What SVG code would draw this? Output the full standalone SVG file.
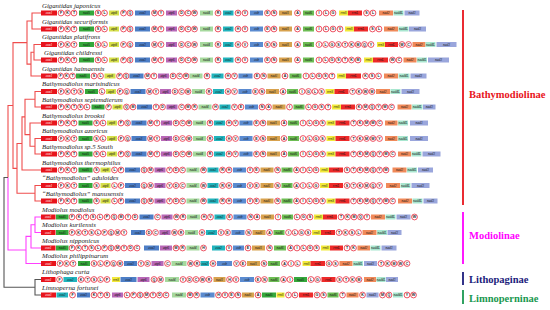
<svg xmlns="http://www.w3.org/2000/svg" width="550" height="310" viewBox="0 0 550 310">
<style>
.sp{font:italic 6.8px "Liberation Serif",serif;fill:#1a1a1a}
.bx text{font:italic 3.5px "Liberation Serif",serif;fill:#111;text-anchor:middle;dominant-baseline:central}
.bx text.w{fill:#fff}
.tr circle{fill:#fff;stroke:#e8283c;stroke-width:.8}
.tl text{font:bold 3.6px "Liberation Sans",sans-serif;fill:#222;text-anchor:middle;dominant-baseline:central}
.k1{fill:#e8141c}.n5{fill:#35a83c}.a8{fill:#d6e04a}.c3{fill:#4d7ec6}.a6{fill:#b868b8}
.n4{fill:#a6d99e}.c2{fill:#22b4be}.cb{fill:#5b8bd0}.n1{fill:#d8a24e}.n6{fill:#6dbd54}
.rs{fill:#f2ea3a}.rl{fill:#ee2a2a}.n2{fill:#f08a5a}.nl{fill:#a8e6cf}.n3{fill:#9aa6dc}
#tree path{fill:none;stroke-width:1.1}
.red{stroke:#ef4d4d}.mag{stroke:#ff40ff}.gry{stroke:#555}
.sub{font:bold 10.5px "Liberation Serif",serif}
</style>

<g id="tree">
<path class="red" d="M41 13H32V29H41M41 44.5H34V60H41M34 52.25H31V76H41M32 21H27V64.1H31"/>
<path class="red" d="M41 91.5H35V107H41M41 138.5H35V154H41M35 146.25H30V123H41M35 99.25H25V134.6H30M25 116.9H22V170H41M41 185.5H35V201H41M22 143.5H17V193.25H35M27 42.6H13V168.4H17M13 105.5H8V177.5"/>
<path class="mag" d="M8 177.5V250H26M41 217H35V232.5H41M35 224.75H31V248H41M31 236.4H26V263.5H41"/>
<path class="gry" d="M8 177.5H4V287.25H35M41 279.5H35V295H41"/>
</g>

<g id="japonicus" transform="translate(0,13)">
<text class="sp" x="42" y="-5.3">Gigantidas japonicus</text>
<g class="bx">
<rect class="k1" x="41" y="-2.5" width="16" height="5"/><text class="w" x="49">cox1</text>
<rect class="n5" x="79" y="-2.5" width="15" height="5"/><text x="86.5">nad5</text>
<rect class="a8" x="109" y="-2.5" width="10" height="5"/><text x="114">atp8</text>
<rect class="c3" x="135" y="-2.5" width="15" height="5"/><text x="142.5">cox3</text>
<rect class="a6" x="166" y="-2.5" width="11" height="5"/><text x="171.5">atp6</text>
<rect class="n4" x="200" y="-2.5" width="13" height="5"/><text x="206.5">nad4</text>
<rect class="c2" x="223" y="-2.5" width="10.5" height="5"/><text x="228.25">cox2</text>
<rect class="cb" x="250" y="-2.5" width="13" height="5"/><text x="256.5">cob</text>
<rect class="n1" x="279" y="-2.5" width="13" height="5"/><text x="285.5">nad1</text>
<rect class="n6" x="303" y="-2.5" width="11" height="5"/><text x="308.5">nad6</text>
<rect class="rs" x="339" y="-2.5" width="9" height="5"/><text x="343.5">rrnS</text>
<rect class="rl" x="348" y="-2.5" width="14" height="5"/><text x="355">rrnL</text>
<rect class="n2" x="379" y="-2.5" width="14" height="5"/><text x="386">nad2</text>
<rect class="nl" x="393.5" y="-2.5" width="10" height="5"/><text x="398.5">nad4L</text>
<rect class="n3" x="404.5" y="-2.5" width="15" height="5"/><text x="412">nad3</text>
</g>
<g class="tr"><circle cx="61" r="2.9"/><circle cx="67.5" r="2.9"/><circle cx="74" r="2.9"/><circle cx="98" r="2.9"/><circle cx="104.5" r="2.9"/><circle cx="123.5" r="2.9"/><circle cx="130" r="2.9"/><circle cx="154.5" r="2.9"/><circle cx="161" r="2.9"/><circle cx="181.5" r="2.9"/><circle cx="188" r="2.9"/><circle cx="194.5" r="2.9"/><circle cx="218" r="2.9"/><circle cx="238" r="2.9"/><circle cx="245" r="2.9"/><circle cx="267.5" r="2.9"/><circle cx="274" r="2.9"/><circle cx="297.5" r="2.9"/><circle cx="319" r="2.9"/><circle cx="326" r="2.9"/><circle cx="333" r="2.9"/><circle cx="366.5" r="2.9"/><circle cx="373" r="2.9"/></g>
<g class="tl"><text x="61">F</text><text x="67.5">K</text><text x="74">T</text><text x="98">S</text><text x="104.5">L</text><text x="123.5">P</text><text x="130">Q</text><text x="154.5">M</text><text x="161">Y</text><text x="181.5">D</text><text x="188">C</text><text x="194.5">W</text><text x="218">R</text><text x="238">H</text><text x="245">V</text><text x="267.5">E</text><text x="274">N</text><text x="297.5">A</text><text x="319">I</text><text x="326">L</text><text x="333">G</text><text x="366.5">S</text><text x="373">L</text></g>
</g>

<g id="securiformis" transform="translate(0,29)">
<text class="sp" x="42" y="-5.3">Gigantidas securiformis</text>
<g class="bx">
<rect class="k1" x="41" y="-2.5" width="16" height="5"/><text class="w" x="49">cox1</text>
<rect class="n5" x="79" y="-2.5" width="15" height="5"/><text x="86.5">nad5</text>
<rect class="a8" x="109" y="-2.5" width="10" height="5"/><text x="114">atp8</text>
<rect class="c3" x="135" y="-2.5" width="15" height="5"/><text x="142.5">cox3</text>
<rect class="a6" x="166" y="-2.5" width="11" height="5"/><text x="171.5">atp6</text>
<rect class="n4" x="200" y="-2.5" width="13" height="5"/><text x="206.5">nad4</text>
<rect class="c2" x="223" y="-2.5" width="10.5" height="5"/><text x="228.25">cox2</text>
<rect class="cb" x="250" y="-2.5" width="13" height="5"/><text x="256.5">cob</text>
<rect class="n1" x="279" y="-2.5" width="13" height="5"/><text x="285.5">nad1</text>
<rect class="n6" x="303" y="-2.5" width="11" height="5"/><text x="308.5">nad6</text>
<rect class="rs" x="345" y="-2.5" width="9" height="5"/><text x="349.5">rrnS</text>
<rect class="rl" x="354" y="-2.5" width="14" height="5"/><text x="361">rrnL</text>
<rect class="n2" x="384" y="-2.5" width="14" height="5"/><text x="391">nad2</text>
<rect class="nl" x="398.5" y="-2.5" width="10" height="5"/><text x="403.5">nad4L</text>
<rect class="n3" x="409" y="-2.5" width="17" height="5"/><text x="417.5">nad3</text>
</g>
<g class="tr"><circle cx="61" r="2.9"/><circle cx="67.5" r="2.9"/><circle cx="74" r="2.9"/><circle cx="98" r="2.9"/><circle cx="104.5" r="2.9"/><circle cx="123.5" r="2.9"/><circle cx="130" r="2.9"/><circle cx="154.5" r="2.9"/><circle cx="161" r="2.9"/><circle cx="181.5" r="2.9"/><circle cx="188" r="2.9"/><circle cx="194.5" r="2.9"/><circle cx="218" r="2.9"/><circle cx="238" r="2.9"/><circle cx="245" r="2.9"/><circle cx="267.5" r="2.9"/><circle cx="274" r="2.9"/><circle cx="297.5" r="2.9"/><circle cx="319" r="2.9"/><circle cx="326" r="2.9"/><circle cx="333" r="2.9"/><circle cx="340" r="2.9"/><circle cx="372.5" r="2.9"/><circle cx="379" r="2.9"/></g>
<g class="tl"><text x="61">F</text><text x="67.5">K</text><text x="74">T</text><text x="98">S</text><text x="104.5">L</text><text x="123.5">P</text><text x="130">Q</text><text x="154.5">M</text><text x="161">Y</text><text x="181.5">D</text><text x="188">C</text><text x="194.5">W</text><text x="218">R</text><text x="238">H</text><text x="245">V</text><text x="267.5">E</text><text x="274">N</text><text x="297.5">A</text><text x="319">I</text><text x="326">L</text><text x="333">G</text><text x="340">V</text><text x="372.5">S</text><text x="379">L</text></g>
</g>

<g id="platifrons" transform="translate(0,44.5)">
<text class="sp" x="42" y="-5.3">Gigantidas platifrons</text>
<g class="bx">
<rect class="k1" x="41" y="-2.5" width="16" height="5"/><text class="w" x="49">cox1</text>
<rect class="n5" x="79" y="-2.5" width="15" height="5"/><text x="86.5">nad5</text>
<rect class="a8" x="109" y="-2.5" width="10" height="5"/><text x="114">atp8</text>
<rect class="c3" x="135" y="-2.5" width="15" height="5"/><text x="142.5">cox3</text>
<rect class="a6" x="166" y="-2.5" width="11" height="5"/><text x="171.5">atp6</text>
<rect class="n4" x="200" y="-2.5" width="13" height="5"/><text x="206.5">nad4</text>
<rect class="c2" x="223" y="-2.5" width="10.5" height="5"/><text x="228.25">cox2</text>
<rect class="cb" x="250" y="-2.5" width="13" height="5"/><text x="256.5">cob</text>
<rect class="n1" x="279" y="-2.5" width="13" height="5"/><text x="285.5">nad1</text>
<rect class="n6" x="303" y="-2.5" width="11" height="5"/><text x="308.5">nad6</text>
<rect class="rs" x="377" y="-2.5" width="8" height="5"/><text x="381">rrnS</text>
<rect class="rl" x="385" y="-2.5" width="13" height="5"/><text x="391.5">rrnL</text>
<rect class="n2" x="412.5" y="-2.5" width="13" height="5"/><text x="419">nad2</text>
<rect class="nl" x="425.5" y="-2.5" width="10" height="5"/><text x="430.5">nad4L</text>
<rect class="n3" x="436.5" y="-2.5" width="20" height="5"/><text x="446.5">nad3</text>
</g>
<g class="tr"><circle cx="61" r="2.9"/><circle cx="67.5" r="2.9"/><circle cx="74" r="2.9"/><circle cx="98" r="2.9"/><circle cx="104.5" r="2.9"/><circle cx="123.5" r="2.9"/><circle cx="130" r="2.9"/><circle cx="154.5" r="2.9"/><circle cx="161" r="2.9"/><circle cx="181.5" r="2.9"/><circle cx="188" r="2.9"/><circle cx="194.5" r="2.9"/><circle cx="218" r="2.9"/><circle cx="238" r="2.9"/><circle cx="245" r="2.9"/><circle cx="267.5" r="2.9"/><circle cx="274" r="2.9"/><circle cx="297.5" r="2.9"/><circle cx="319" r="2.9"/><circle cx="325.5" r="2.9"/><circle cx="332" r="2.9"/><circle cx="338.5" r="2.9"/><circle cx="345" r="2.9"/><circle cx="351.5" r="2.9"/><circle cx="358" r="2.9"/><circle cx="364.5" r="2.9"/><circle cx="371" r="2.9"/><circle cx="402" r="2.9"/><circle cx="408.5" r="2.9"/></g>
<g class="tl"><text x="61">F</text><text x="67.5">K</text><text x="74">T</text><text x="98">S</text><text x="104.5">L</text><text x="123.5">P</text><text x="130">Q</text><text x="154.5">M</text><text x="161">Y</text><text x="181.5">D</text><text x="188">C</text><text x="194.5">W</text><text x="218">R</text><text x="238">H</text><text x="245">V</text><text x="267.5">E</text><text x="274">N</text><text x="297.5">A</text><text x="319">I</text><text x="325.5">L</text><text x="332">G</text><text x="338.5">S</text><text x="345">T</text><text x="351.5">K</text><text x="358">M</text><text x="364.5">Q</text><text x="371">Y</text><text x="402">W</text><text x="408.5">C</text></g>
</g>

<g id="childressi" transform="translate(0,60)">
<text class="sp" x="44" y="-5.3">Gigantidas childressi</text>
<g class="bx">
<rect class="k1" x="41" y="-2.5" width="16" height="5"/><text class="w" x="49">cox1</text>
<rect class="n5" x="79" y="-2.5" width="15" height="5"/><text x="86.5">nad5</text>
<rect class="a8" x="109" y="-2.5" width="10" height="5"/><text x="114">atp8</text>
<rect class="c3" x="135" y="-2.5" width="15" height="5"/><text x="142.5">cox3</text>
<rect class="a6" x="166" y="-2.5" width="11" height="5"/><text x="171.5">atp6</text>
<rect class="n4" x="200" y="-2.5" width="13" height="5"/><text x="206.5">nad4</text>
<rect class="c2" x="223" y="-2.5" width="10.5" height="5"/><text x="228.25">cox2</text>
<rect class="cb" x="250" y="-2.5" width="13" height="5"/><text x="256.5">cob</text>
<rect class="n1" x="279" y="-2.5" width="13" height="5"/><text x="285.5">nad1</text>
<rect class="n6" x="303" y="-2.5" width="11" height="5"/><text x="308.5">nad6</text>
<rect class="rs" x="364" y="-2.5" width="9" height="5"/><text x="368.5">rrnS</text>
<rect class="rl" x="373" y="-2.5" width="15" height="5"/><text x="380.5">rrnL</text>
<rect class="n2" x="403.5" y="-2.5" width="13" height="5"/><text x="410">nad2</text>
<rect class="nl" x="417" y="-2.5" width="10" height="5"/><text x="422">nad4L</text>
<rect class="n3" x="428" y="-2.5" width="21" height="5"/><text x="438.5">nad3</text>
</g>
<g class="tr"><circle cx="61" r="2.9"/><circle cx="67.5" r="2.9"/><circle cx="74" r="2.9"/><circle cx="98" r="2.9"/><circle cx="104.5" r="2.9"/><circle cx="123.5" r="2.9"/><circle cx="130" r="2.9"/><circle cx="154.5" r="2.9"/><circle cx="161" r="2.9"/><circle cx="181.5" r="2.9"/><circle cx="188" r="2.9"/><circle cx="194.5" r="2.9"/><circle cx="218" r="2.9"/><circle cx="238" r="2.9"/><circle cx="245" r="2.9"/><circle cx="267.5" r="2.9"/><circle cx="274" r="2.9"/><circle cx="297.5" r="2.9"/><circle cx="319" r="2.9"/><circle cx="325.5" r="2.9"/><circle cx="332" r="2.9"/><circle cx="338.5" r="2.9"/><circle cx="345" r="2.9"/><circle cx="351.5" r="2.9"/><circle cx="358" r="2.9"/><circle cx="392.5" r="2.9"/><circle cx="399" r="2.9"/></g>
<g class="tl"><text x="61">F</text><text x="67.5">K</text><text x="74">T</text><text x="98">S</text><text x="104.5">L</text><text x="123.5">P</text><text x="130">Q</text><text x="154.5">M</text><text x="161">Y</text><text x="181.5">D</text><text x="188">C</text><text x="194.5">W</text><text x="218">R</text><text x="238">H</text><text x="245">V</text><text x="267.5">E</text><text x="274">N</text><text x="297.5">A</text><text x="319">I</text><text x="325.5">L</text><text x="332">G</text><text x="338.5">S</text><text x="345">T</text><text x="351.5">K</text><text x="358">M</text><text x="392.5">W</text><text x="399">C</text></g>
</g>

<g id="haimaensis" transform="translate(0,76)">
<text class="sp" x="42" y="-5.3">Gigantidas haimaensis</text>
<g class="bx">
<rect class="k1" x="41" y="-2.5" width="16" height="5"/><text class="w" x="49">cox1</text>
<rect class="n5" x="76" y="-2.5" width="14" height="5"/><text x="83">nad5</text>
<rect class="a8" x="104.5" y="-2.5" width="11" height="5"/><text x="110">atp8</text>
<rect class="c3" x="129.5" y="-2.5" width="14" height="5"/><text x="136.5">cox3</text>
<rect class="a6" x="158" y="-2.5" width="11" height="5"/><text x="163.5">atp6</text>
<rect class="n4" x="189.5" y="-2.5" width="13" height="5"/><text x="196">nad4</text>
<rect class="c2" x="211.5" y="-2.5" width="12" height="5"/><text x="217.5">cox2</text>
<rect class="cb" x="238.5" y="-2.5" width="14" height="5"/><text x="245.5">cob</text>
<rect class="n1" x="267.5" y="-2.5" width="13" height="5"/><text x="274">nad1</text>
<rect class="n6" x="289.5" y="-2.5" width="12" height="5"/><text x="295.5">nad6</text>
<rect class="rs" x="337" y="-2.5" width="9" height="5"/><text x="341.5">rrnS</text>
<rect class="rl" x="346" y="-2.5" width="15" height="5"/><text x="353.5">rrnL</text>
<rect class="n2" x="384" y="-2.5" width="14" height="5"/><text x="391">nad2</text>
<rect class="nl" x="398.5" y="-2.5" width="11" height="5"/><text x="404">nad4L</text>
<rect class="n3" x="410.5" y="-2.5" width="16" height="5"/><text x="418.5">nad3</text>
</g>
<g class="tr"><circle cx="60.5" r="2.9"/><circle cx="66.5" r="2.9"/><circle cx="72.5" r="2.9"/><circle cx="94" r="2.9"/><circle cx="100.5" r="2.9"/><circle cx="119.5" r="2.9"/><circle cx="126" r="2.9"/><circle cx="147.5" r="2.9"/><circle cx="154" r="2.9"/><circle cx="173" r="2.9"/><circle cx="179.5" r="2.9"/><circle cx="186" r="2.9"/><circle cx="207" r="2.9"/><circle cx="228" r="2.9"/><circle cx="234.5" r="2.9"/><circle cx="257" r="2.9"/><circle cx="263.5" r="2.9"/><circle cx="285" r="2.9"/><circle cx="306" r="2.9"/><circle cx="312.5" r="2.9"/><circle cx="319" r="2.9"/><circle cx="325.5" r="2.9"/><circle cx="332" r="2.9"/><circle cx="365.5" r="2.9"/><circle cx="372" r="2.9"/><circle cx="378.5" r="2.9"/></g>
<g class="tl"><text x="60.5">F</text><text x="66.5">K</text><text x="72.5">T</text><text x="94">S</text><text x="100.5">L</text><text x="119.5">P</text><text x="126">Q</text><text x="147.5">M</text><text x="154">Y</text><text x="173">D</text><text x="179.5">C</text><text x="186">W</text><text x="207">R</text><text x="228">H</text><text x="234.5">V</text><text x="257">E</text><text x="263.5">N</text><text x="285">A</text><text x="306">I</text><text x="312.5">L</text><text x="319">G</text><text x="325.5">S</text><text x="332">T</text><text x="365.5">K</text><text x="372">S</text><text x="378.5">L</text></g>
</g>

<g id="marisindicus" transform="translate(0,91.5)">
<text class="sp" x="42" y="-5.3">Bathymodiolus marisindicus</text>
<g class="bx">
<rect class="k1" x="41" y="-2.5" width="16" height="5"/><text class="w" x="49">cox1</text>
<rect class="n5" x="85" y="-2.5" width="13" height="5"/><text x="91.5">nad5</text>
<rect class="a8" x="106" y="-2.5" width="10" height="5"/><text x="111">atp8</text>
<rect class="c3" x="130.5" y="-2.5" width="15" height="5"/><text x="138">cox3</text>
<rect class="a6" x="160" y="-2.5" width="11" height="5"/><text x="165.5">atp6</text>
<rect class="n4" x="192" y="-2.5" width="13" height="5"/><text x="198.5">nad4</text>
<rect class="c2" x="213" y="-2.5" width="11" height="5"/><text x="218.5">cox2</text>
<rect class="cb" x="238.5" y="-2.5" width="13" height="5"/><text x="245">cob</text>
<rect class="n1" x="266" y="-2.5" width="13" height="5"/><text x="272.5">nad1</text>
<rect class="n6" x="287" y="-2.5" width="11" height="5"/><text x="292.5">nad6</text>
<rect class="rs" x="325.5" y="-2.5" width="9" height="5"/><text x="330">rrnS</text>
<rect class="rl" x="334.5" y="-2.5" width="14" height="5"/><text x="341.5">rrnL</text>
<rect class="n2" x="376" y="-2.5" width="14" height="5"/><text x="383">nad2</text>
<rect class="nl" x="390.5" y="-2.5" width="10" height="5"/><text x="395.5">nad4L</text>
<rect class="n3" x="401.5" y="-2.5" width="18" height="5"/><text x="410.5">nad3</text>
</g>
<g class="tr"><circle cx="61" r="2.9"/><circle cx="67.5" r="2.9"/><circle cx="74" r="2.9"/><circle cx="80.5" r="2.9"/><circle cx="102" r="2.9"/><circle cx="120" r="2.9"/><circle cx="126.5" r="2.9"/><circle cx="149.5" r="2.9"/><circle cx="156" r="2.9"/><circle cx="175" r="2.9"/><circle cx="181.5" r="2.9"/><circle cx="188" r="2.9"/><circle cx="209" r="2.9"/><circle cx="228" r="2.9"/><circle cx="234.5" r="2.9"/><circle cx="255.5" r="2.9"/><circle cx="262" r="2.9"/><circle cx="283" r="2.9"/><circle cx="302" r="2.9"/><circle cx="308.5" r="2.9"/><circle cx="315" r="2.9"/><circle cx="321.5" r="2.9"/><circle cx="352.5" r="2.9"/><circle cx="359" r="2.9"/><circle cx="365.5" r="2.9"/><circle cx="372" r="2.9"/></g>
<g class="tl"><text x="61">F</text><text x="67.5">K</text><text x="74">T</text><text x="80.5">S</text><text x="102">L</text><text x="120">P</text><text x="126.5">Q</text><text x="149.5">M</text><text x="156">Y</text><text x="175">D</text><text x="181.5">C</text><text x="188">W</text><text x="209">R</text><text x="228">H</text><text x="234.5">V</text><text x="255.5">E</text><text x="262">N</text><text x="283">A</text><text x="302">I</text><text x="308.5">G</text><text x="315">L</text><text x="321.5">S</text><text x="352.5">T</text><text x="359">K</text><text x="365.5">W</text><text x="372">M</text></g>
</g>

<g id="septemdierum" transform="translate(0,107)">
<text class="sp" x="42" y="-5.3">Bathymodiolus septemdierum</text>
<g class="bx">
<rect class="k1" x="41" y="-2.5" width="16" height="5"/><text class="w" x="49">cox1</text>
<rect class="n5" x="91.5" y="-2.5" width="13" height="5"/><text x="98">nad5</text>
<rect class="a8" x="112.5" y="-2.5" width="10" height="5"/><text x="117.5">atp8</text>
<rect class="c3" x="137" y="-2.5" width="15" height="5"/><text x="144.5">cox3</text>
<rect class="a6" x="166.5" y="-2.5" width="11" height="5"/><text x="172">atp6</text>
<rect class="n4" x="198.5" y="-2.5" width="13" height="5"/><text x="205">nad4</text>
<rect class="c2" x="219.5" y="-2.5" width="11" height="5"/><text x="225">cox2</text>
<rect class="cb" x="245" y="-2.5" width="13" height="5"/><text x="251.5">cob</text>
<rect class="n1" x="272.5" y="-2.5" width="13" height="5"/><text x="279">nad1</text>
<rect class="n6" x="293.5" y="-2.5" width="11" height="5"/><text x="299">nad6</text>
<rect class="rs" x="332" y="-2.5" width="9" height="5"/><text x="336.5">rrnS</text>
<rect class="rl" x="341" y="-2.5" width="14" height="5"/><text x="348">rrnL</text>
<rect class="n2" x="397.5" y="-2.5" width="14" height="5"/><text x="404.5">nad2</text>
<rect class="nl" x="412" y="-2.5" width="10.5" height="5"/><text x="417.25">nad4L</text>
<rect class="n3" x="423" y="-2.5" width="12.5" height="5"/><text x="429.25">nad3</text>
</g>
<g class="tr"><circle cx="61" r="2.9"/><circle cx="67.5" r="2.9"/><circle cx="74" r="2.9"/><circle cx="80.5" r="2.9"/><circle cx="87" r="2.9"/><circle cx="108.5" r="2.9"/><circle cx="126.5" r="2.9"/><circle cx="133" r="2.9"/><circle cx="156" r="2.9"/><circle cx="162.5" r="2.9"/><circle cx="181.5" r="2.9"/><circle cx="188" r="2.9"/><circle cx="194.5" r="2.9"/><circle cx="215.5" r="2.9"/><circle cx="234.5" r="2.9"/><circle cx="241" r="2.9"/><circle cx="262" r="2.9"/><circle cx="268.5" r="2.9"/><circle cx="289.5" r="2.9"/><circle cx="308.5" r="2.9"/><circle cx="315" r="2.9"/><circle cx="321.5" r="2.9"/><circle cx="328" r="2.9"/><circle cx="359" r="2.9"/><circle cx="365.5" r="2.9"/><circle cx="372" r="2.9"/><circle cx="378.5" r="2.9"/><circle cx="385" r="2.9"/><circle cx="391.5" r="2.9"/></g>
<g class="tl"><text x="61">F</text><text x="67.5">K</text><text x="74">T</text><text x="80.5">S</text><text x="87">L</text><text x="108.5">P</text><text x="126.5">Q</text><text x="133">M</text><text x="156">Y</text><text x="162.5">D</text><text x="181.5">C</text><text x="188">W</text><text x="194.5">R</text><text x="215.5">H</text><text x="234.5">V</text><text x="241">E</text><text x="262">N</text><text x="268.5">A</text><text x="289.5">I</text><text x="308.5">L</text><text x="315">G</text><text x="321.5">S</text><text x="328">T</text><text x="359">K</text><text x="365.5">M</text><text x="372">Q</text><text x="378.5">Y</text><text x="385">W</text><text x="391.5">C</text></g>
</g>

<g id="brooksi" transform="translate(0,123)">
<text class="sp" x="42" y="-5.3">Bathymodiolus brooksi</text>
<g class="bx">
<rect class="k1" x="41" y="-2.5" width="16" height="5"/><text class="w" x="49">cox1</text>
<rect class="n5" x="78.5" y="-2.5" width="14" height="5"/><text x="85.5">nad5</text>
<rect class="a8" x="107" y="-2.5" width="10" height="5"/><text x="112">atp8</text>
<rect class="c3" x="131.5" y="-2.5" width="15" height="5"/><text x="139">cox3</text>
<rect class="a6" x="161" y="-2.5" width="11" height="5"/><text x="166.5">atp6</text>
<rect class="n4" x="193" y="-2.5" width="13" height="5"/><text x="199.5">nad4</text>
<rect class="c2" x="214" y="-2.5" width="11" height="5"/><text x="219.5">cox2</text>
<rect class="cb" x="239.5" y="-2.5" width="13" height="5"/><text x="246">cob</text>
<rect class="n1" x="267" y="-2.5" width="13" height="5"/><text x="273.5">nad1</text>
<rect class="n6" x="288" y="-2.5" width="11" height="5"/><text x="293.5">nad6</text>
<rect class="rs" x="326.5" y="-2.5" width="9" height="5"/><text x="331">rrnS</text>
<rect class="rl" x="335.5" y="-2.5" width="14" height="5"/><text x="342.5">rrnL</text>
<rect class="n2" x="385" y="-2.5" width="12.5" height="5"/><text x="391.25">nad2</text>
<rect class="nl" x="398" y="-2.5" width="10" height="5"/><text x="403">nad4L</text>
<rect class="n3" x="410" y="-2.5" width="18" height="5"/><text x="419">nad3</text>
</g>
<g class="tr"><circle cx="61" r="2.9"/><circle cx="67.5" r="2.9"/><circle cx="74" r="2.9"/><circle cx="96.5" r="2.9"/><circle cx="103" r="2.9"/><circle cx="121" r="2.9"/><circle cx="127.5" r="2.9"/><circle cx="150.5" r="2.9"/><circle cx="157" r="2.9"/><circle cx="176" r="2.9"/><circle cx="182.5" r="2.9"/><circle cx="189" r="2.9"/><circle cx="210" r="2.9"/><circle cx="229" r="2.9"/><circle cx="235.5" r="2.9"/><circle cx="256.5" r="2.9"/><circle cx="263" r="2.9"/><circle cx="284" r="2.9"/><circle cx="303" r="2.9"/><circle cx="309.5" r="2.9"/><circle cx="316" r="2.9"/><circle cx="322.5" r="2.9"/><circle cx="353.5" r="2.9"/><circle cx="360" r="2.9"/><circle cx="366.5" r="2.9"/><circle cx="373" r="2.9"/><circle cx="379.5" r="2.9"/></g>
<g class="tl"><text x="61">F</text><text x="67.5">K</text><text x="74">T</text><text x="96.5">S</text><text x="103">L</text><text x="121">P</text><text x="127.5">Q</text><text x="150.5">M</text><text x="157">Y</text><text x="176">D</text><text x="182.5">C</text><text x="189">W</text><text x="210">R</text><text x="229">H</text><text x="235.5">V</text><text x="256.5">E</text><text x="263">N</text><text x="284">A</text><text x="303">I</text><text x="309.5">L</text><text x="316">G</text><text x="322.5">S</text><text x="353.5">T</text><text x="360">K</text><text x="366.5">M</text><text x="373">W</text><text x="379.5">C</text></g>
</g>

<g id="azoricus" transform="translate(0,138.5)">
<text class="sp" x="42" y="-5.3">Bathymodiolus azoricus</text>
<g class="bx">
<rect class="k1" x="41" y="-2.5" width="16" height="5"/><text class="w" x="49">cox1</text>
<rect class="n5" x="78.5" y="-2.5" width="14" height="5"/><text x="85.5">nad5</text>
<rect class="a8" x="107" y="-2.5" width="10" height="5"/><text x="112">atp8</text>
<rect class="c3" x="131.5" y="-2.5" width="15" height="5"/><text x="139">cox3</text>
<rect class="a6" x="161" y="-2.5" width="11" height="5"/><text x="166.5">atp6</text>
<rect class="n4" x="193" y="-2.5" width="13" height="5"/><text x="199.5">nad4</text>
<rect class="c2" x="214" y="-2.5" width="11" height="5"/><text x="219.5">cox2</text>
<rect class="cb" x="239.5" y="-2.5" width="13" height="5"/><text x="246">cob</text>
<rect class="n1" x="267" y="-2.5" width="13" height="5"/><text x="273.5">nad1</text>
<rect class="n6" x="288" y="-2.5" width="11" height="5"/><text x="293.5">nad6</text>
<rect class="rs" x="326.5" y="-2.5" width="9" height="5"/><text x="331">rrnS</text>
<rect class="rl" x="335.5" y="-2.5" width="14" height="5"/><text x="342.5">rrnL</text>
<rect class="n2" x="385" y="-2.5" width="12.5" height="5"/><text x="391.25">nad2</text>
<rect class="nl" x="398" y="-2.5" width="10" height="5"/><text x="403">nad4L</text>
<rect class="n3" x="410" y="-2.5" width="18" height="5"/><text x="419">nad3</text>
</g>
<g class="tr"><circle cx="61" r="2.9"/><circle cx="67.5" r="2.9"/><circle cx="74" r="2.9"/><circle cx="96.5" r="2.9"/><circle cx="103" r="2.9"/><circle cx="121" r="2.9"/><circle cx="127.5" r="2.9"/><circle cx="150.5" r="2.9"/><circle cx="157" r="2.9"/><circle cx="176" r="2.9"/><circle cx="182.5" r="2.9"/><circle cx="189" r="2.9"/><circle cx="210" r="2.9"/><circle cx="229" r="2.9"/><circle cx="235.5" r="2.9"/><circle cx="256.5" r="2.9"/><circle cx="263" r="2.9"/><circle cx="284" r="2.9"/><circle cx="303" r="2.9"/><circle cx="309.5" r="2.9"/><circle cx="316" r="2.9"/><circle cx="322.5" r="2.9"/><circle cx="353.5" r="2.9"/><circle cx="360" r="2.9"/><circle cx="366.5" r="2.9"/><circle cx="373" r="2.9"/><circle cx="379.5" r="2.9"/></g>
<g class="tl"><text x="61">F</text><text x="67.5">K</text><text x="74">T</text><text x="96.5">S</text><text x="103">L</text><text x="121">P</text><text x="127.5">Q</text><text x="150.5">M</text><text x="157">Y</text><text x="176">D</text><text x="182.5">C</text><text x="189">W</text><text x="210">R</text><text x="229">H</text><text x="235.5">V</text><text x="256.5">E</text><text x="263">N</text><text x="284">A</text><text x="303">I</text><text x="309.5">L</text><text x="316">G</text><text x="322.5">S</text><text x="353.5">T</text><text x="360">K</text><text x="366.5">M</text><text x="373">W</text><text x="379.5">Y</text></g>
</g>

<g id="sp5South" transform="translate(0,154)">
<text class="sp" x="42" y="-5.3">Bathymodiolus sp.5 South</text>
<g class="bx">
<rect class="k1" x="41" y="-2.5" width="16" height="5"/><text class="w" x="49">cox1</text>
<rect class="n5" x="78.5" y="-2.5" width="14" height="5"/><text x="85.5">nad5</text>
<rect class="a8" x="107" y="-2.5" width="10" height="5"/><text x="112">atp8</text>
<rect class="c3" x="131.5" y="-2.5" width="15" height="5"/><text x="139">cox3</text>
<rect class="a6" x="161" y="-2.5" width="11" height="5"/><text x="166.5">atp6</text>
<rect class="n4" x="193" y="-2.5" width="13" height="5"/><text x="199.5">nad4</text>
<rect class="c2" x="214" y="-2.5" width="11" height="5"/><text x="219.5">cox2</text>
<rect class="cb" x="239.5" y="-2.5" width="13" height="5"/><text x="246">cob</text>
<rect class="n1" x="267" y="-2.5" width="13" height="5"/><text x="273.5">nad1</text>
<rect class="n6" x="288" y="-2.5" width="11" height="5"/><text x="293.5">nad6</text>
<rect class="rs" x="326.5" y="-2.5" width="9" height="5"/><text x="331">rrnS</text>
<rect class="rl" x="335.5" y="-2.5" width="14" height="5"/><text x="342.5">rrnL</text>
<rect class="n2" x="398" y="-2.5" width="13" height="5"/><text x="404.5">nad2</text>
<rect class="nl" x="411.5" y="-2.5" width="10" height="5"/><text x="416.5">nad4L</text>
<rect class="n3" x="422.5" y="-2.5" width="18" height="5"/><text x="431.5">nad3</text>
</g>
<g class="tr"><circle cx="61" r="2.9"/><circle cx="67.5" r="2.9"/><circle cx="74" r="2.9"/><circle cx="96.5" r="2.9"/><circle cx="103" r="2.9"/><circle cx="121" r="2.9"/><circle cx="127.5" r="2.9"/><circle cx="150.5" r="2.9"/><circle cx="157" r="2.9"/><circle cx="176" r="2.9"/><circle cx="182.5" r="2.9"/><circle cx="189" r="2.9"/><circle cx="210" r="2.9"/><circle cx="229" r="2.9"/><circle cx="235.5" r="2.9"/><circle cx="256.5" r="2.9"/><circle cx="263" r="2.9"/><circle cx="284" r="2.9"/><circle cx="303" r="2.9"/><circle cx="309.5" r="2.9"/><circle cx="316" r="2.9"/><circle cx="322.5" r="2.9"/><circle cx="353.5" r="2.9"/><circle cx="360" r="2.9"/><circle cx="366.5" r="2.9"/><circle cx="373" r="2.9"/><circle cx="379.5" r="2.9"/><circle cx="386" r="2.9"/><circle cx="392.5" r="2.9"/></g>
<g class="tl"><text x="61">F</text><text x="67.5">K</text><text x="74">T</text><text x="96.5">S</text><text x="103">L</text><text x="121">P</text><text x="127.5">Q</text><text x="150.5">M</text><text x="157">Y</text><text x="176">D</text><text x="182.5">C</text><text x="189">W</text><text x="210">R</text><text x="229">H</text><text x="235.5">V</text><text x="256.5">E</text><text x="263">N</text><text x="284">A</text><text x="303">I</text><text x="309.5">L</text><text x="316">G</text><text x="322.5">S</text><text x="353.5">T</text><text x="360">K</text><text x="366.5">M</text><text x="373">Q</text><text x="379.5">Y</text><text x="386">W</text><text x="392.5">C</text></g>
</g>

<g id="thermophilus" transform="translate(0,170)">
<text class="sp" x="42" y="-5.3">Bathymodiolus thermophilus</text>
<g class="bx">
<rect class="k1" x="41" y="-2.5" width="16" height="5"/><text class="w" x="49">cox1</text>
<rect class="n5" x="78.5" y="-2.5" width="14" height="5"/><text x="85.5">nad5</text>
<rect class="a8" x="100.5" y="-2.5" width="10" height="5"/><text x="105.5">atp8</text>
<rect class="c3" x="125" y="-2.5" width="15" height="5"/><text x="132.5">cox3</text>
<rect class="a6" x="154.5" y="-2.5" width="11" height="5"/><text x="160">atp6</text>
<rect class="n4" x="186.5" y="-2.5" width="13" height="5"/><text x="193">nad4</text>
<rect class="c2" x="207.5" y="-2.5" width="11" height="5"/><text x="213">cox2</text>
<rect class="cb" x="233" y="-2.5" width="13" height="5"/><text x="239.5">cob</text>
<rect class="n1" x="260.5" y="-2.5" width="13" height="5"/><text x="267">nad1</text>
<rect class="n6" x="281.5" y="-2.5" width="11" height="5"/><text x="287">nad6</text>
<rect class="rs" x="320" y="-2.5" width="9" height="5"/><text x="324.5">rrnS</text>
<rect class="rl" x="329" y="-2.5" width="14" height="5"/><text x="336">rrnL</text>
<rect class="n2" x="392.5" y="-2.5" width="14" height="5"/><text x="399.5">nad2</text>
<rect class="nl" x="407" y="-2.5" width="10" height="5"/><text x="412">nad4L</text>
<rect class="n3" x="418" y="-2.5" width="15" height="5"/><text x="425.5">nad3</text>
</g>
<g class="tr"><circle cx="61" r="2.9"/><circle cx="67.5" r="2.9"/><circle cx="74" r="2.9"/><circle cx="96.5" r="2.9"/><circle cx="114.5" r="2.9"/><circle cx="121" r="2.9"/><circle cx="144" r="2.9"/><circle cx="150.5" r="2.9"/><circle cx="169.5" r="2.9"/><circle cx="176" r="2.9"/><circle cx="182.5" r="2.9"/><circle cx="203.5" r="2.9"/><circle cx="222.5" r="2.9"/><circle cx="229" r="2.9"/><circle cx="250" r="2.9"/><circle cx="256.5" r="2.9"/><circle cx="277.5" r="2.9"/><circle cx="296.5" r="2.9"/><circle cx="303" r="2.9"/><circle cx="309.5" r="2.9"/><circle cx="316" r="2.9"/><circle cx="347" r="2.9"/><circle cx="353.5" r="2.9"/><circle cx="360" r="2.9"/><circle cx="366.5" r="2.9"/><circle cx="373" r="2.9"/><circle cx="379.5" r="2.9"/><circle cx="386" r="2.9"/></g>
<g class="tl"><text x="61">F</text><text x="67.5">K</text><text x="74">T</text><text x="96.5">S</text><text x="114.5">L</text><text x="121">P</text><text x="144">Q</text><text x="150.5">M</text><text x="169.5">Y</text><text x="176">D</text><text x="182.5">C</text><text x="203.5">W</text><text x="222.5">R</text><text x="229">H</text><text x="250">V</text><text x="256.5">E</text><text x="277.5">N</text><text x="296.5">A</text><text x="303">I</text><text x="309.5">L</text><text x="316">G</text><text x="347">S</text><text x="353.5">T</text><text x="360">K</text><text x="366.5">M</text><text x="373">Q</text><text x="379.5">Y</text><text x="386">W</text></g>
</g>

<g id="aduloides" transform="translate(0,185.5)">
<text class="sp" x="42" y="-5.3">“Bathymodiolus” aduloides</text>
<g class="bx">
<rect class="k1" x="41" y="-2.5" width="16" height="5"/><text class="w" x="49">cox1</text>
<rect class="n5" x="78.5" y="-2.5" width="14" height="5"/><text x="85.5">nad5</text>
<rect class="a8" x="100.5" y="-2.5" width="10" height="5"/><text x="105.5">atp8</text>
<rect class="c3" x="125" y="-2.5" width="15" height="5"/><text x="132.5">cox3</text>
<rect class="a6" x="154.5" y="-2.5" width="11" height="5"/><text x="160">atp6</text>
<rect class="n4" x="186.5" y="-2.5" width="13" height="5"/><text x="193">nad4</text>
<rect class="c2" x="207.5" y="-2.5" width="11" height="5"/><text x="213">cox2</text>
<rect class="cb" x="233" y="-2.5" width="13" height="5"/><text x="239.5">cob</text>
<rect class="n1" x="260.5" y="-2.5" width="13" height="5"/><text x="267">nad1</text>
<rect class="n6" x="281.5" y="-2.5" width="11" height="5"/><text x="287">nad6</text>
<rect class="rs" x="320" y="-2.5" width="9" height="5"/><text x="324.5">rrnS</text>
<rect class="rl" x="329" y="-2.5" width="14" height="5"/><text x="336">rrnL</text>
<rect class="n2" x="386" y="-2.5" width="14" height="5"/><text x="393">nad2</text>
<rect class="nl" x="400.5" y="-2.5" width="10" height="5"/><text x="405.5">nad4L</text>
<rect class="n3" x="411.5" y="-2.5" width="18" height="5"/><text x="420.5">nad3</text>
</g>
<g class="tr"><circle cx="61" r="2.9"/><circle cx="67.5" r="2.9"/><circle cx="74" r="2.9"/><circle cx="96.5" r="2.9"/><circle cx="114.5" r="2.9"/><circle cx="121" r="2.9"/><circle cx="144" r="2.9"/><circle cx="150.5" r="2.9"/><circle cx="169.5" r="2.9"/><circle cx="176" r="2.9"/><circle cx="182.5" r="2.9"/><circle cx="203.5" r="2.9"/><circle cx="222.5" r="2.9"/><circle cx="229" r="2.9"/><circle cx="250" r="2.9"/><circle cx="256.5" r="2.9"/><circle cx="277.5" r="2.9"/><circle cx="296.5" r="2.9"/><circle cx="303" r="2.9"/><circle cx="309.5" r="2.9"/><circle cx="316" r="2.9"/><circle cx="347" r="2.9"/><circle cx="353.5" r="2.9"/><circle cx="360" r="2.9"/><circle cx="366.5" r="2.9"/><circle cx="373" r="2.9"/><circle cx="379.5" r="2.9"/></g>
<g class="tl"><text x="61">F</text><text x="67.5">K</text><text x="74">T</text><text x="96.5">S</text><text x="114.5">L</text><text x="121">P</text><text x="144">Q</text><text x="150.5">M</text><text x="169.5">Y</text><text x="176">D</text><text x="182.5">C</text><text x="203.5">W</text><text x="222.5">R</text><text x="229">H</text><text x="250">V</text><text x="256.5">E</text><text x="277.5">N</text><text x="296.5">A</text><text x="303">I</text><text x="309.5">L</text><text x="316">G</text><text x="347">S</text><text x="353.5">T</text><text x="360">K</text><text x="366.5">M</text><text x="373">Q</text><text x="379.5">Y</text></g>
</g>

<g id="manusensis" transform="translate(0,201)">
<text class="sp" x="42" y="-5.3">“Bathymodiolus” manusensis</text>
<g class="bx">
<rect class="k1" x="41" y="-2.5" width="16" height="5"/><text class="w" x="49">cox1</text>
<rect class="n5" x="78.5" y="-2.5" width="14" height="5"/><text x="85.5">nad5</text>
<rect class="a8" x="100.5" y="-2.5" width="10" height="5"/><text x="105.5">atp8</text>
<rect class="c3" x="125" y="-2.5" width="15" height="5"/><text x="132.5">cox3</text>
<rect class="a6" x="154.5" y="-2.5" width="11" height="5"/><text x="160">atp6</text>
<rect class="n4" x="186.5" y="-2.5" width="13" height="5"/><text x="193">nad4</text>
<rect class="c2" x="207.5" y="-2.5" width="11" height="5"/><text x="213">cox2</text>
<rect class="cb" x="233" y="-2.5" width="13" height="5"/><text x="239.5">cob</text>
<rect class="n1" x="260.5" y="-2.5" width="13" height="5"/><text x="267">nad1</text>
<rect class="n6" x="281.5" y="-2.5" width="11" height="5"/><text x="287">nad6</text>
<rect class="rs" x="326.5" y="-2.5" width="9" height="5"/><text x="331">rrnS</text>
<rect class="rl" x="335.5" y="-2.5" width="14" height="5"/><text x="342.5">rrnL</text>
<rect class="n2" x="398" y="-2.5" width="14" height="5"/><text x="405">nad2</text>
<rect class="nl" x="412.5" y="-2.5" width="10" height="5"/><text x="417.5">nad4L</text>
<rect class="n3" x="423.5" y="-2.5" width="14" height="5"/><text x="430.5">nad3</text>
</g>
<g class="tr"><circle cx="61" r="2.9"/><circle cx="67.5" r="2.9"/><circle cx="74" r="2.9"/><circle cx="96.5" r="2.9"/><circle cx="114.5" r="2.9"/><circle cx="121" r="2.9"/><circle cx="144" r="2.9"/><circle cx="150.5" r="2.9"/><circle cx="169.5" r="2.9"/><circle cx="176" r="2.9"/><circle cx="182.5" r="2.9"/><circle cx="203.5" r="2.9"/><circle cx="222.5" r="2.9"/><circle cx="229" r="2.9"/><circle cx="250" r="2.9"/><circle cx="256.5" r="2.9"/><circle cx="277.5" r="2.9"/><circle cx="296.5" r="2.9"/><circle cx="303" r="2.9"/><circle cx="309.5" r="2.9"/><circle cx="316" r="2.9"/><circle cx="322.5" r="2.9"/><circle cx="353.5" r="2.9"/><circle cx="360" r="2.9"/><circle cx="366.5" r="2.9"/><circle cx="373" r="2.9"/><circle cx="379.5" r="2.9"/><circle cx="386" r="2.9"/><circle cx="392.5" r="2.9"/></g>
<g class="tl"><text x="61">F</text><text x="67.5">K</text><text x="74">T</text><text x="96.5">S</text><text x="114.5">L</text><text x="121">P</text><text x="144">Q</text><text x="150.5">M</text><text x="169.5">Y</text><text x="176">D</text><text x="182.5">C</text><text x="203.5">W</text><text x="222.5">R</text><text x="229">H</text><text x="250">V</text><text x="256.5">E</text><text x="277.5">N</text><text x="296.5">A</text><text x="303">I</text><text x="309.5">L</text><text x="316">G</text><text x="322.5">S</text><text x="353.5">T</text><text x="360">K</text><text x="366.5">M</text><text x="373">Q</text><text x="379.5">Y</text><text x="386">W</text><text x="392.5">C</text></g>
</g>

<g id="modiolus" transform="translate(0,217)">
<text class="sp" x="42" y="-5.3">Modiolus modiolus</text>
<g class="bx">
<rect class="k1" x="41" y="-2.5" width="14.5" height="5"/><text class="w" x="48.25">cox1</text>
<rect class="n5" x="56" y="-2.5" width="12.5" height="5"/><text x="62.25">nad5</text>
<rect class="c3" x="139.5" y="-2.5" width="14" height="5"/><text x="146.5">cox3</text>
<rect class="a6" x="161.5" y="-2.5" width="11" height="5"/><text x="167">atp6</text>
<rect class="n4" x="187" y="-2.5" width="13" height="5"/><text x="193.5">nad4</text>
<rect class="c2" x="214.5" y="-2.5" width="11" height="5"/><text x="220">cox2</text>
<rect class="cb" x="233.5" y="-2.5" width="13" height="5"/><text x="240">cob</text>
<rect class="n1" x="261" y="-2.5" width="13" height="5"/><text x="267.5">nad1</text>
<rect class="n6" x="282" y="-2.5" width="11" height="5"/><text x="287.5">nad6</text>
<rect class="rs" x="314" y="-2.5" width="9" height="5"/><text x="318.5">rrnS</text>
<rect class="rl" x="323" y="-2.5" width="14" height="5"/><text x="330">rrnL</text>
<rect class="n2" x="371" y="-2.5" width="14" height="5"/><text x="378">nad2</text>
<rect class="nl" x="385.5" y="-2.5" width="10" height="5"/><text x="390.5">nad4L</text>
<rect class="n3" x="396.5" y="-2.5" width="14" height="5"/><text x="403.5">nad3</text>
</g>
<g class="tr"><circle cx="72" r="2.9"/><circle cx="79" r="2.9"/><circle cx="86" r="2.9"/><circle cx="93" r="2.9"/><circle cx="100" r="2.9"/><circle cx="107" r="2.9"/><circle cx="114" r="2.9"/><circle cx="121" r="2.9"/><circle cx="128" r="2.9"/><circle cx="135" r="2.9"/><circle cx="157.5" r="2.9"/><circle cx="176.5" r="2.9"/><circle cx="183" r="2.9"/><circle cx="204" r="2.9"/><circle cx="210.5" r="2.9"/><circle cx="229.5" r="2.9"/><circle cx="250.5" r="2.9"/><circle cx="257" r="2.9"/><circle cx="278" r="2.9"/><circle cx="297" r="2.9"/><circle cx="303.5" r="2.9"/><circle cx="310" r="2.9"/><circle cx="341" r="2.9"/><circle cx="347.5" r="2.9"/><circle cx="354" r="2.9"/><circle cx="360.5" r="2.9"/><circle cx="367" r="2.9"/><circle cx="414.5" r="2.9"/></g>
<g class="tl"><text x="72">F</text><text x="79">K</text><text x="86">T</text><text x="93">S</text><text x="100">L</text><text x="107">P</text><text x="114">Q</text><text x="121">M</text><text x="128">Y</text><text x="135">D</text><text x="157.5">C</text><text x="176.5">W</text><text x="183">R</text><text x="204">H</text><text x="210.5">V</text><text x="229.5">E</text><text x="250.5">N</text><text x="257">A</text><text x="278">I</text><text x="297">L</text><text x="303.5">G</text><text x="310">S</text><text x="341">T</text><text x="347.5">K</text><text x="354">M</text><text x="360.5">Q</text><text x="367">Y</text><text x="414.5">W</text></g>
</g>

<g id="kurilensis" transform="translate(0,232.5)">
<text class="sp" x="42" y="-5.3">Modiolus kurilensis</text>
<g class="bx">
<rect class="k1" x="41" y="-2.5" width="14.5" height="5"/><text class="w" x="48.25">cox1</text>
<rect class="n5" x="56" y="-2.5" width="12.5" height="5"/><text x="62.25">nad5</text>
<rect class="c3" x="131" y="-2.5" width="14" height="5"/><text x="138">cox3</text>
<rect class="a6" x="159.5" y="-2.5" width="11" height="5"/><text x="165">atp6</text>
<rect class="n4" x="185" y="-2.5" width="13" height="5"/><text x="191.5">nad4</text>
<rect class="c2" x="206" y="-2.5" width="11" height="5"/><text x="211.5">cox2</text>
<rect class="cb" x="231.5" y="-2.5" width="13" height="5"/><text x="238">cob</text>
<rect class="n1" x="252.5" y="-2.5" width="13" height="5"/><text x="259">nad1</text>
<rect class="n6" x="273.5" y="-2.5" width="11" height="5"/><text x="279">nad6</text>
<rect class="rs" x="312" y="-2.5" width="9" height="5"/><text x="316.5">rrnS</text>
<rect class="rl" x="321" y="-2.5" width="14" height="5"/><text x="328">rrnL</text>
<rect class="n2" x="362.5" y="-2.5" width="14" height="5"/><text x="369.5">nad2</text>
<rect class="nl" x="377" y="-2.5" width="10" height="5"/><text x="382">nad4L</text>
<rect class="n3" x="387.5" y="-2.5" width="14" height="5"/><text x="394.5">nad3</text>
</g>
<g class="tr"><circle cx="72" r="2.9"/><circle cx="78.5" r="2.9"/><circle cx="85" r="2.9"/><circle cx="91.5" r="2.9"/><circle cx="98" r="2.9"/><circle cx="104.5" r="2.9"/><circle cx="111" r="2.9"/><circle cx="117.5" r="2.9"/><circle cx="124" r="2.9"/><circle cx="149" r="2.9"/><circle cx="155.5" r="2.9"/><circle cx="174.5" r="2.9"/><circle cx="181" r="2.9"/><circle cx="202" r="2.9"/><circle cx="221" r="2.9"/><circle cx="227.5" r="2.9"/><circle cx="248.5" r="2.9"/><circle cx="269.5" r="2.9"/><circle cx="288.5" r="2.9"/><circle cx="295" r="2.9"/><circle cx="301.5" r="2.9"/><circle cx="308" r="2.9"/><circle cx="339" r="2.9"/><circle cx="345.5" r="2.9"/><circle cx="352" r="2.9"/><circle cx="358.5" r="2.9"/></g>
<g class="tl"><text x="72">F</text><text x="78.5">K</text><text x="85">T</text><text x="91.5">S</text><text x="98">L</text><text x="104.5">P</text><text x="111">Q</text><text x="117.5">M</text><text x="124">Y</text><text x="149">D</text><text x="155.5">C</text><text x="174.5">W</text><text x="181">R</text><text x="202">H</text><text x="221">V</text><text x="227.5">E</text><text x="248.5">N</text><text x="269.5">A</text><text x="288.5">I</text><text x="295">L</text><text x="301.5">G</text><text x="308">S</text><text x="339">T</text><text x="345.5">K</text><text x="352">S</text><text x="358.5">L</text></g>
</g>

<g id="nipponicus" transform="translate(0,248)">
<text class="sp" x="42" y="-5.3">Modiolus nipponicus</text>
<g class="bx">
<rect class="k1" x="41" y="-2.5" width="14.5" height="5"/><text class="w" x="48.25">cox1</text>
<rect class="n5" x="56" y="-2.5" width="12.5" height="5"/><text x="62.25">nad5</text>
<rect class="c3" x="144" y="-2.5" width="15" height="5"/><text x="151.5">cox3</text>
<rect class="a6" x="160" y="-2.5" width="12" height="5"/><text x="166">atp6</text>
<rect class="n4" x="186.5" y="-2.5" width="13" height="5"/><text x="193">nad4</text>
<rect class="c2" x="212" y="-2.5" width="13" height="5"/><text x="218.5">cox2</text>
<rect class="cb" x="233" y="-2.5" width="11" height="5"/><text x="238.5">cob</text>
<rect class="n1" x="252" y="-2.5" width="13" height="5"/><text x="258.5">nad1</text>
<rect class="n6" x="274" y="-2.5" width="12" height="5"/><text x="280">nad6</text>
<rect class="rs" x="321" y="-2.5" width="9" height="5"/><text x="325.5">rrnS</text>
<rect class="rl" x="330" y="-2.5" width="13" height="5"/><text x="336.5">rrnL</text>
<rect class="n2" x="357.5" y="-2.5" width="12.5" height="5"/><text x="363.75">nad2</text>
<rect class="nl" x="370.5" y="-2.5" width="10" height="5"/><text x="375.5">nad4L</text>
<rect class="n3" x="381.5" y="-2.5" width="15" height="5"/><text x="389">nad3</text>
</g>
<g class="tr"><circle cx="72" r="2.9"/><circle cx="78.5" r="2.9"/><circle cx="85" r="2.9"/><circle cx="91.5" r="2.9"/><circle cx="98" r="2.9"/><circle cx="104.5" r="2.9"/><circle cx="111" r="2.9"/><circle cx="117.5" r="2.9"/><circle cx="124" r="2.9"/><circle cx="130.5" r="2.9"/><circle cx="137" r="2.9"/><circle cx="176" r="2.9"/><circle cx="182.5" r="2.9"/><circle cx="203.5" r="2.9"/><circle cx="229" r="2.9"/><circle cx="248" r="2.9"/><circle cx="269.5" r="2.9"/><circle cx="290.5" r="2.9"/><circle cx="297" r="2.9"/><circle cx="303.5" r="2.9"/><circle cx="310" r="2.9"/><circle cx="316.5" r="2.9"/><circle cx="347" r="2.9"/><circle cx="353.5" r="2.9"/></g>
<g class="tl"><text x="72">F</text><text x="78.5">K</text><text x="85">T</text><text x="91.5">S</text><text x="98">L</text><text x="104.5">P</text><text x="111">Q</text><text x="117.5">M</text><text x="124">Y</text><text x="130.5">D</text><text x="137">C</text><text x="176">W</text><text x="182.5">R</text><text x="203.5">H</text><text x="229">V</text><text x="248">E</text><text x="269.5">N</text><text x="290.5">A</text><text x="297">I</text><text x="303.5">L</text><text x="310">G</text><text x="316.5">S</text><text x="347">T</text><text x="353.5">K</text></g>
</g>

<g id="philippinarum" transform="translate(0,263.5)">
<text class="sp" x="42" y="-5.3">Modiolus philippinarum</text>
<g class="bx">
<rect class="k1" x="41" y="-2.5" width="15" height="5"/><text class="w" x="48.5">cox1</text>
<rect class="n5" x="78" y="-2.5" width="12" height="5"/><text x="84">nad5</text>
<rect class="c3" x="124" y="-2.5" width="13" height="5"/><text x="130.5">cox3</text>
<rect class="a6" x="151.5" y="-2.5" width="12" height="5"/><text x="157.5">atp6</text>
<rect class="n4" x="171.5" y="-2.5" width="15" height="5"/><text x="179">nad4</text>
<rect class="c2" x="200.5" y="-2.5" width="8.5" height="5"/><text x="204.75">cox2</text>
<rect class="cb" x="217" y="-2.5" width="15" height="5"/><text x="224.5">cob</text>
<rect class="n1" x="247" y="-2.5" width="13" height="5"/><text x="253.5">nad1</text>
<rect class="n6" x="268" y="-2.5" width="12" height="5"/><text x="274">nad6</text>
<rect class="rs" x="302.5" y="-2.5" width="8" height="5"/><text x="306.5">rrnS</text>
<rect class="rl" x="310.5" y="-2.5" width="14.5" height="5"/><text x="317.75">rrnL</text>
<rect class="n2" x="339.5" y="-2.5" width="13" height="5"/><text x="346">nad2</text>
<rect class="nl" x="353" y="-2.5" width="10" height="5"/><text x="358">nad4L</text>
<rect class="n3" x="364" y="-2.5" width="13" height="5"/><text x="370.5">nad3</text>
</g>
<g class="tr"><circle cx="60" r="2.9"/><circle cx="66.5" r="2.9"/><circle cx="73" r="2.9"/><circle cx="94" r="2.9"/><circle cx="100.5" r="2.9"/><circle cx="107" r="2.9"/><circle cx="113.5" r="2.9"/><circle cx="120" r="2.9"/><circle cx="141" r="2.9"/><circle cx="147.5" r="2.9"/><circle cx="167.5" r="2.9"/><circle cx="190.5" r="2.9"/><circle cx="197" r="2.9"/><circle cx="213" r="2.9"/><circle cx="236.5" r="2.9"/><circle cx="243" r="2.9"/><circle cx="264" r="2.9"/><circle cx="284.5" r="2.9"/><circle cx="291" r="2.9"/><circle cx="297.5" r="2.9"/><circle cx="329" r="2.9"/><circle cx="335.5" r="2.9"/><circle cx="381" r="2.9"/><circle cx="387.5" r="2.9"/><circle cx="394" r="2.9"/><circle cx="400.5" r="2.9"/><circle cx="407" r="2.9"/></g>
<g class="tl"><text x="60">F</text><text x="66.5">K</text><text x="73">T</text><text x="94">S</text><text x="100.5">L</text><text x="107">P</text><text x="113.5">Q</text><text x="120">M</text><text x="141">Y</text><text x="147.5">D</text><text x="167.5">C</text><text x="190.5">W</text><text x="197">R</text><text x="213">H</text><text x="236.5">V</text><text x="243">E</text><text x="264">N</text><text x="284.5">A</text><text x="291">I</text><text x="297.5">L</text><text x="329">G</text><text x="335.5">S</text><text x="381">T</text><text x="387.5">K</text><text x="394">M</text><text x="400.5">W</text><text x="407">C</text></g>
</g>

<g id="Lithophaga" transform="translate(0,279.5)">
<text class="sp" x="42" y="-5.3">Lithophaga curta</text>
<g class="bx">
<rect class="k1" x="41" y="-2.5" width="14.5" height="5"/><text class="w" x="48.25">cox1</text>
<rect class="c2" x="63.5" y="-2.5" width="13.5" height="5"/><text x="70.25">cox2</text>
<rect class="rs" x="112" y="-2.5" width="8" height="5"/><text x="116">rrnS</text>
<rect class="c3" x="120.5" y="-2.5" width="16" height="5"/><text x="128.5">cox3</text>
<rect class="a6" x="137.5" y="-2.5" width="12" height="5"/><text x="143.5">atp6</text>
<rect class="n4" x="165" y="-2.5" width="14" height="5"/><text x="172">nad4</text>
<rect class="n1" x="213.5" y="-2.5" width="12" height="5"/><text x="219.5">nad1</text>
<rect class="cb" x="240" y="-2.5" width="14" height="5"/><text x="247">cob</text>
<rect class="n6" x="268.5" y="-2.5" width="11" height="5"/><text x="274">nad6</text>
<rect class="n5" x="294" y="-2.5" width="13" height="5"/><text x="300.5">nad5</text>
<rect class="rl" x="321.5" y="-2.5" width="14" height="5"/><text x="328.5">rrnL</text>
<rect class="n2" x="364" y="-2.5" width="12" height="5"/><text x="370">nad2</text>
<rect class="nl" x="376.5" y="-2.5" width="9" height="5"/><text x="381">nad4L</text>
<rect class="n3" x="386" y="-2.5" width="12" height="5"/><text x="392">nad3</text>
</g>
<g class="tr"><circle cx="59.5" r="2.9"/><circle cx="81" r="2.9"/><circle cx="87.5" r="2.9"/><circle cx="94" r="2.9"/><circle cx="100.5" r="2.9"/><circle cx="107" r="2.9"/><circle cx="154" r="2.9"/><circle cx="160.5" r="2.9"/><circle cx="183" r="2.9"/><circle cx="189.5" r="2.9"/><circle cx="196" r="2.9"/><circle cx="202.5" r="2.9"/><circle cx="209" r="2.9"/><circle cx="229.5" r="2.9"/><circle cx="236" r="2.9"/><circle cx="258" r="2.9"/><circle cx="264.5" r="2.9"/><circle cx="283.5" r="2.9"/><circle cx="290" r="2.9"/><circle cx="311" r="2.9"/><circle cx="317.5" r="2.9"/><circle cx="339.5" r="2.9"/><circle cx="346" r="2.9"/><circle cx="352.5" r="2.9"/><circle cx="359" r="2.9"/></g>
<g class="tl"><text x="59.5">F</text><text x="81">K</text><text x="87.5">T</text><text x="94">S</text><text x="100.5">L</text><text x="107">P</text><text x="154">Q</text><text x="160.5">M</text><text x="183">Y</text><text x="189.5">D</text><text x="196">C</text><text x="202.5">W</text><text x="209">R</text><text x="229.5">H</text><text x="236">V</text><text x="258">E</text><text x="264.5">N</text><text x="283.5">A</text><text x="290">I</text><text x="311">L</text><text x="317.5">G</text><text x="339.5">S</text><text x="346">T</text><text x="352.5">K</text><text x="359">M</text></g>
</g>

<g id="Limnoperna" transform="translate(0,295)">
<text class="sp" x="42" y="-5.3">Limnoperna fortunei</text>
<g class="bx">
<rect class="k1" x="41" y="-2.5" width="15" height="5"/><text class="w" x="48.5">cox1</text>
<rect class="c2" x="56.5" y="-2.5" width="11.5" height="5"/><text x="62.25">cox2</text>
<rect class="c3" x="77" y="-2.5" width="13" height="5"/><text x="83.5">cox3</text>
<rect class="a6" x="112" y="-2.5" width="11" height="5"/><text x="117.5">atp6</text>
<rect class="n4" x="172" y="-2.5" width="14" height="5"/><text x="179">nad4</text>
<rect class="cb" x="200.5" y="-2.5" width="14" height="5"/><text x="207.5">cob</text>
<rect class="n1" x="242" y="-2.5" width="12" height="5"/><text x="248">nad1</text>
<rect class="n5" x="262" y="-2.5" width="14" height="5"/><text x="269">nad5</text>
<rect class="rs" x="276.5" y="-2.5" width="8" height="5"/><text x="280.5">rrnS</text>
<rect class="rl" x="299" y="-2.5" width="14" height="5"/><text x="306">rrnL</text>
<rect class="n6" x="327.5" y="-2.5" width="11" height="5"/><text x="333">nad6</text>
<rect class="n2" x="346.5" y="-2.5" width="12" height="5"/><text x="352.5">nad2</text>
<rect class="n3" x="366.5" y="-2.5" width="12" height="5"/><text x="372.5">nad3</text>
<rect class="nl" x="393" y="-2.5" width="10" height="5"/><text x="398">nad4L</text>
</g>
<g class="tr"><circle cx="72.5" r="2.9"/><circle cx="94" r="2.9"/><circle cx="100.5" r="2.9"/><circle cx="107" r="2.9"/><circle cx="127" r="2.9"/><circle cx="133.5" r="2.9"/><circle cx="140" r="2.9"/><circle cx="146.5" r="2.9"/><circle cx="153" r="2.9"/><circle cx="159.5" r="2.9"/><circle cx="166" r="2.9"/><circle cx="190" r="2.9"/><circle cx="196.5" r="2.9"/><circle cx="218.5" r="2.9"/><circle cx="225" r="2.9"/><circle cx="231.5" r="2.9"/><circle cx="238" r="2.9"/><circle cx="258" r="2.9"/><circle cx="288.5" r="2.9"/><circle cx="295" r="2.9"/><circle cx="317" r="2.9"/><circle cx="323.5" r="2.9"/><circle cx="342.5" r="2.9"/><circle cx="362.5" r="2.9"/><circle cx="382.5" r="2.9"/><circle cx="389" r="2.9"/><circle cx="407" r="2.9"/><circle cx="413.5" r="2.9"/></g>
<g class="tl"><text x="72.5">F</text><text x="94">K</text><text x="100.5">T</text><text x="107">S</text><text x="127">L</text><text x="133.5">P</text><text x="140">Q</text><text x="146.5">M</text><text x="153">Y</text><text x="159.5">D</text><text x="166">C</text><text x="190">W</text><text x="196.5">R</text><text x="218.5">H</text><text x="225">V</text><text x="231.5">E</text><text x="238">N</text><text x="258">A</text><text x="288.5">I</text><text x="295">L</text><text x="317">G</text><text x="323.5">S</text><text x="342.5">T</text><text x="362.5">K</text><text x="382.5">M</text><text x="389">Q</text><text x="407">Y</text><text x="413.5">W</text></g>
</g>

<g id="subfamilies">
<path d="M463 10V205" stroke="#e8141c" stroke-width="1.8"/>
<text class="sub" x="469" y="98" fill="#e8141c">Bathymodiolinae</text>
<path d="M463 212V264" stroke="#ff00ff" stroke-width="1.8"/>
<text class="sub" x="469" y="239" fill="#ff00ff">Modiolinae</text>
<path d="M463 272V285" stroke="#1c1c7c" stroke-width="1.8"/>
<text class="sub" x="469" y="283" fill="#1c1c7c">Lithopaginae</text>
<path d="M463 290V304" stroke="#1a9850" stroke-width="1.8"/>
<text class="sub" x="469" y="302" fill="#1a9850">Limnoperninae</text>
</g>
</svg>
